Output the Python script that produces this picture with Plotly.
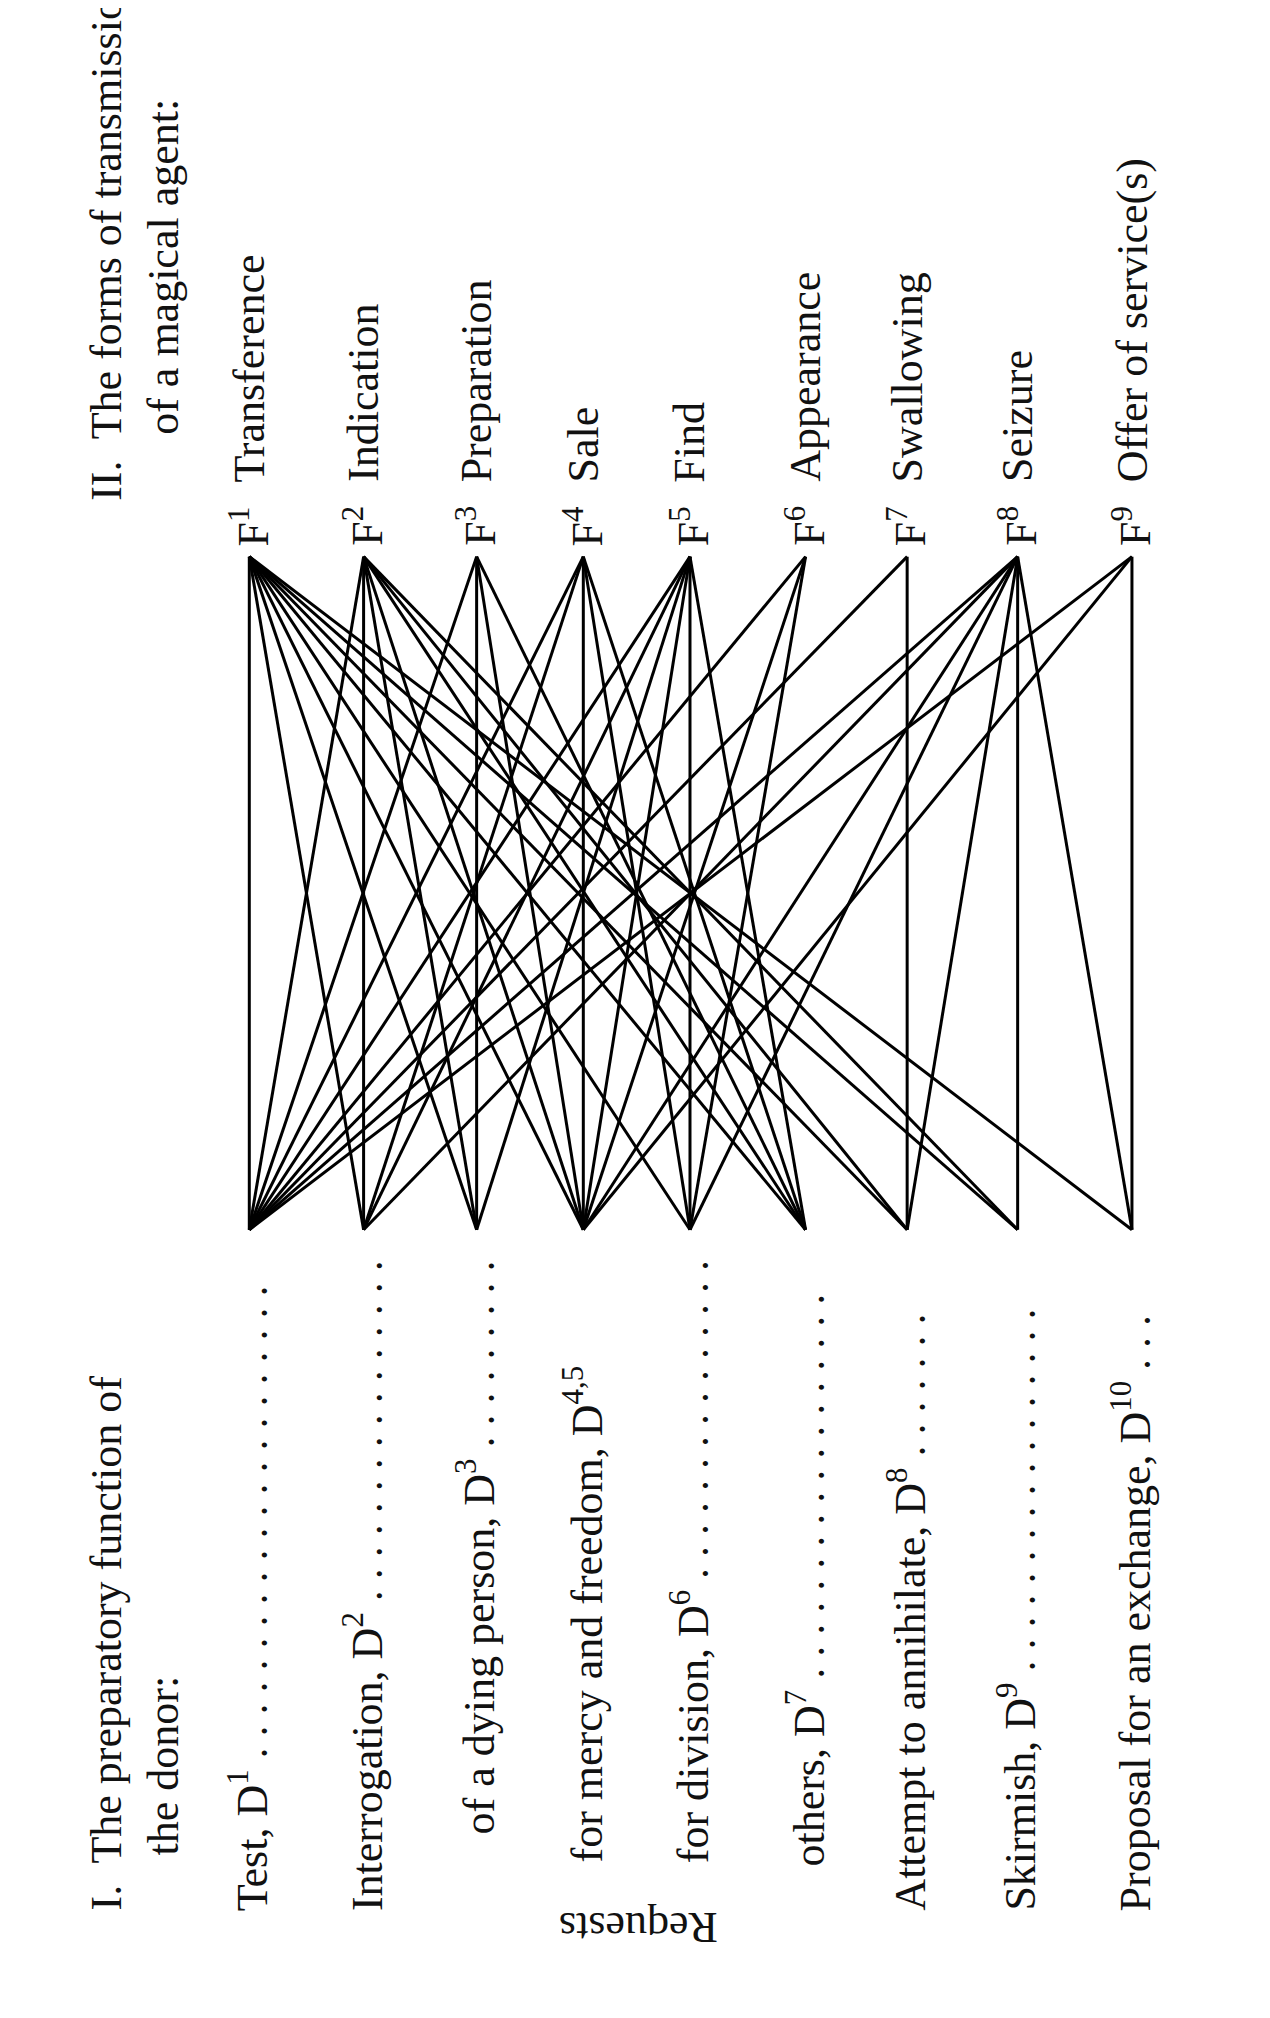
import plotly.graph_objects as go

# donor functions (bottom row) and transmission forms (top row)
d_labels = ["Test, D<sup>1</sup>" + " ." * 22, "Interrogation, D<sup>2</sup>" + " ." * 16,
            "of a dying person, D<sup>3</sup>" + " ." * 9, "for mercy and freedom, D<sup>4,5</sup>",
            "for division, D<sup>6</sup>" + " ." * 15, "others, D<sup>7</sup>" + " ." * 18,
            "Attempt to annihilate, D<sup>8</sup>" + " ." * 7, "Skirmish, D<sup>9</sup>" + " ." * 17,
            "Proposal for an exchange, D<sup>10</sup> . . ."]
d_start = [1500, 1500, 1440, 1462, 1462, 1465, 1500, 1500, 1500]
f_labels = ["F<sup>1</sup>", "F<sup>2</sup>", "F<sup>3</sup>", "F<sup>4</sup>", "F<sup>5</sup>",
            "F<sup>6</sup>", "F<sup>7</sup>", "F<sup>8</sup>", "F<sup>9</sup>"]
f_names = ["Transference", "Indication", "Preparation", "Sale", "Find",
           "Appearance", "Swallowing", "Seizure", "Offer of service(s)"]
col_x = [190, 280, 369, 453, 537, 628, 708, 795, 885]

# edges: (donor index, form index)
edges = {
    0: [0, 1, 2, 3, 4, 5, 6, 7, 8],
    1: [0, 1, 3, 4, 7],
    2: [0, 1, 2, 4],
    3: [0, 1, 2, 3, 4, 5, 7, 8],
    4: [0, 3, 4, 5, 7],
    5: [0, 1, 2, 3, 4],
    6: [0, 1, 6, 7],
    7: [0, 1, 7],
    8: [0, 7, 8],
}

y_d, y_f = 962, 432
xs, ys = [], []
for d, fs in edges.items():
    for f in fs:
        xs += [col_x[d], col_x[f], None]
        ys += [y_d, y_f, None]

fig = go.Figure(go.Scatter(x=xs, y=ys, mode="lines", line=dict(color="black", width=3),
                           hoverinfo="skip"))

font = dict(family="Liberation Serif, DejaVu Serif, serif", size=44, color="#111")
ann = []
ann.append(dict(x=100, y=1500, text="I.  The preparatory function of<br>     the donor:",
                textangle=-90, xanchor="center", yanchor="bottom", align="left"))
ann.append(dict(x=100, y=390, text="II.  The forms of transmission<br>      of a magical agent:",
                textangle=-90, xanchor="center", yanchor="bottom", align="left"))
for i in range(9):
    ann.append(dict(x=col_x[i], y=d_start[i], text=d_labels[i], textangle=-90,
                    xanchor="center", yanchor="bottom"))
    ann.append(dict(x=col_x[i], y=408, text=f_labels[i], textangle=-90,
                    xanchor="center", yanchor="middle"))
    ann.append(dict(x=col_x[i], y=375, text=f_names[i], textangle=-90,
                    xanchor="center", yanchor="bottom"))
ann.append(dict(x=496, y=1512, text="Requests", textangle=180,
                xanchor="center", yanchor="middle"))
for a in ann:
    a.update(xref="x", yref="y", showarrow=False, font=font)

fig.update_layout(width=1270, height=2018, margin=dict(l=0, r=0, t=0, b=0),
                  paper_bgcolor="white", plot_bgcolor="white", showlegend=False,
                  annotations=ann,
                  xaxis=dict(range=[0, 1000], visible=False),
                  yaxis=dict(range=[1589, 0], visible=False))
fig.write_html("out.html")
